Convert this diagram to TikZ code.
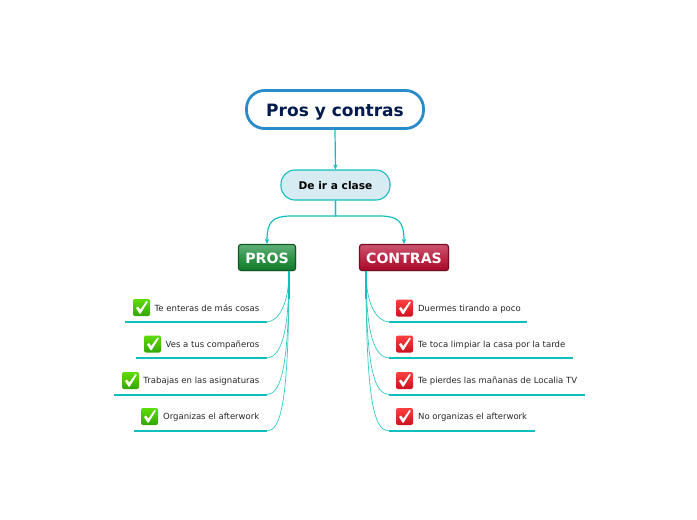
\documentclass[tikz,border=0pt]{standalone}
\usepackage{fontspec}
\setmainfont{DejaVu Sans}
\usetikzlibrary{arrows.meta,shadows}
\definecolor{teal1}{HTML}{0FC0BE}
\definecolor{rootblue}{HTML}{2A8BCB}
\definecolor{navy}{HTML}{001A4D}
\definecolor{midfill}{HTML}{D6ECF2}
\definecolor{gTop}{HTML}{62B07A}
\definecolor{gMid}{HTML}{2F9448}
\definecolor{gBot}{HTML}{137A2D}
\definecolor{gEdge}{HTML}{0F5A24}
\definecolor{rTop}{HTML}{CB5570}
\definecolor{rMid}{HTML}{BC2A48}
\definecolor{rBot}{HTML}{A80A28}
\definecolor{rEdge}{HTML}{7A0A24}
\definecolor{tgTop}{HTML}{5FDC05}
\definecolor{tgBot}{HTML}{35A600}
\definecolor{trTop}{HTML}{FF4040}
\definecolor{trBot}{HTML}{CC1020}
\tikzset{
 x=1pt,y=-1pt,
 rootbox/.style={draw=rootblue,line width=2.8pt,fill=white,rounded corners=18pt,minimum width=177pt,minimum height=38pt,inner sep=0pt,text=navy,text height=13pt,text depth=0pt,font=\bfseries\fontsize{17}{19}\selectfont},
 midbox/.style={draw=teal1,line width=1.1pt,fill=midfill,rounded corners=14pt,minimum width=109pt,minimum height=30pt,inner sep=0pt,text height=8.5pt,text depth=0pt,font=\bfseries\fontsize{10.6}{12}\selectfont},
 prosbox/.style={draw=gEdge,line width=1.2pt,rounded corners=2.5pt,top color=gTop,bottom color=gBot,middle color=gMid,minimum height=26pt,inner sep=0pt,text=white,text height=12pt,text depth=0pt,font=\bfseries\fontsize{14.1}{16}\selectfont,general shadow={fill=black!25,shadow xshift=1pt,shadow yshift=-1pt,opacity=.4}},
 conbox/.style={prosbox,draw=rEdge,top color=rTop,bottom color=rBot,middle color=rMid},
 arrowline/.style={draw=teal1,line width=1.2pt,-{Stealth[length=5pt,width=4.5pt]}},
 thinline/.style={draw=teal1!85,line width=.7pt},
 trunkline/.style={draw=teal1,line width=1.6pt},
 under/.style={draw=teal1,line width=2pt},
 leaf/.style={inner sep=0pt,text=black!85,font=\fontsize{8.5}{10}\selectfont},
 tick/.style={draw=none,rounded corners=2pt,minimum size=17pt,inner sep=0pt},
 gtick/.style={tick,top color=tgTop,bottom color=tgBot},
 rtick/.style={tick,top color=trTop,bottom color=trBot},
}
\newcommand{\chk}[1]{\fill[white] ([shift={(-5.5,.5)}]#1.center) -- ([shift={(-3.5,-1)}]#1.center) -- ([shift={(-1.2,2)}]#1.center) -- ([shift={(5,-6.5)}]#1.center) -- ([shift={(6.3,-5.6)}]#1.center) -- ([shift={(-.8,6)}]#1.center) -- ([shift={(-2,6)}]#1.center) -- cycle;}
\begin{document}
\begin{tikzpicture}
\useasboundingbox (0,0) rectangle (697,520);
\node[rootbox] (root) at (335,109.5) {Pros y contras};
\node[midbox] (mid) at (335.5,185) {De ir a clase};
\node[prosbox,minimum width=57pt] (pros) at (267,257.5) {PROS};
\node[conbox,minimum width=89pt] (con) at (404,257.5) {CONTRAS};
\draw[arrowline] (root.south) -- (mid.north);
\draw[arrowline] (mid.south) -- (335.5,216) -- (290,216) .. controls (273,216.5) and (267,221) .. (pros.north);
\draw[arrowline] (mid.south) -- (335.5,216) -- (381,216) .. controls (398,216.5) and (404,221) .. (con.north);
\coordinate (trunkL) at (289,271);
\coordinate (trunkR) at (366,271);
\foreach \n/\x/\ly/\lx/\ty/\txt in {
 a/141.5/322/125/308.5/Te enteras de más cosas,
 b/152.5/358/136/345/Ves a tus compañeros,
 c/130.5/394.5/114/381.5/Trabajas en las asignaturas,
 d/149.5/431/134/417.5/Organizas el afterwork}{
 \node[leaf,anchor=east] (txt\n) at (259.5,\ty) {\txt};
 \node[gtick] (box\n) at (\x,\ty-1) {};
 \chk{box\n}
 \coordinate (end\n) at (267,\ly);
 \coordinate (start\n) at (\lx,\ly);
 \draw[under] (start\n) -- (end\n);
 \draw[thinline] (trunkL) .. controls (289,\ly-18) and (279,\ly-1) .. (end\n);
}
\foreach \n/\ly/\lx/\ty/\txt in {
 p/322/527/309/Duermes tirando a poco,
 q/358/573/345/Te toca limpiar la casa por la tarde,
 r/394.5/585/381.5/Te pierdes las mañanas de Localia TV,
 s/431/535/417.5/No organizas el afterwork}{
 \node[leaf,anchor=west] (txt\n) at (418,\ty) {\txt};
 \node[rtick] (box\n) at (404.5,\ty-1) {};
 \chk{box\n}
 \coordinate (end\n) at (389,\ly);
 \coordinate (start\n) at (\lx,\ly);
 \draw[under] (end\n) -- (start\n);
 \draw[thinline] (trunkR) .. controls (366,\ly-18) and (376,\ly-1) .. (end\n);
}
\draw[trunkline] (trunkL) -- ++(0,28);
\draw[trunkline] (trunkR) -- ++(0,28);
\end{tikzpicture}
\end{document}
